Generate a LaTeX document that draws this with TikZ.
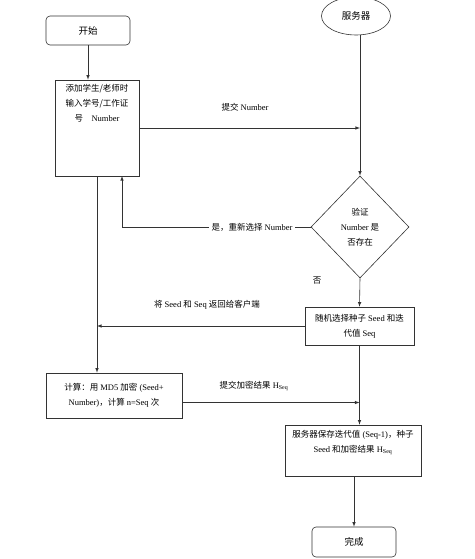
\documentclass[tikz,border=0pt]{standalone}
\usepackage{fontspec}
\setmainfont{Liberation Serif}
\newfontfamily\cjk{Noto Sans CJK SC}
\usetikzlibrary{shapes.geometric}

\tikzset{
  box/.style={draw=black!80, rectangle, align=center, inner sep=2pt, font=\fontsize{8.5}{15}\selectfont},
  roundbox/.style={box, rounded corners=4pt, font=\fontsize{9.5}{12}\selectfont},
  txt/.style={align=center, inner sep=1pt, font=\fontsize{8.5}{15}\selectfont},
  arr/.style={draw=black!80, ->, >=latex}
}

\begin{document}
\begin{tikzpicture}[x=1pt,y=-1pt,line width=0.6pt]
\useasboundingbox (0,0) rectangle (474,559);

% client side
\node[roundbox, minimum width=84pt, minimum height=29pt] (start) at (88,30.5) {\cjk 开始};
\node[box, minimum width=84pt, minimum height=96pt,
  label={[txt, anchor=north, yshift=-3pt, name=inputtxt]north:{\cjk 添加学生/老师时}\\{\cjk 输入学号/工作证}\\{\cjk 号}\quad Number}]
  (input) at (97,128) {};
\node[box, minimum width=136pt, minimum height=45pt] (calc) at (114,395.5)
  {{\cjk 计算：用} MD5 {\cjk 加密} (Seed+\\Number){\cjk ，计算} n=Seq {\cjk 次}};

% server side
\node[draw=black!80, ellipse, minimum width=69pt, minimum height=38pt, font=\fontsize{9.5}{12}\selectfont] (server) at (356,16) {\cjk 服务器};
\node[draw=black!80, diamond, inner sep=0pt, minimum width=98pt, minimum height=102pt, txt] (check) at (360,227)
  {{\cjk 验证}\\Number {\cjk 是}\\{\cjk 否存在}};
\node[box, minimum width=109pt, minimum height=38pt] (rand) at (359.5,326)
  {{\cjk 随机选择种子} Seed {\cjk 和迭}\\{\cjk 代值} Seq};
\node[box, minimum width=136pt, minimum height=51pt] (save) at (353,450.5)
  {{\cjk 服务器保存迭代值} (Seq-1){\cjk ，种子}\\Seed {\cjk 和加密结果} H\textsubscript{Seq}\\[4pt]};
\node[roundbox, minimum width=84pt, minimum height=30pt] (done) at (354,542) {\cjk 完成};

\coordinate (back) at (122,176);

% connectors
\draw[arr] (start.south) -- (start.south |- input.north);
\draw[arr] (server.south -| check.north) -- (check.north);
\draw[arr] (input.east) -- (input.east -| check.north);
\node[txt] (sendlbl) at (245,107) {{\cjk 提交} Number};
\draw[arr] (check.west) -| (back);
\node[txt, fill=white, inner sep=3pt] (yeslbl) at (252,227) {{\cjk 是，重新选择} Number};
\draw[arr] (check.south) -- (rand.north);
\node[txt] (nolbl) at (317,281) {\cjk 否};
\draw[arr] (rand.west) -- (rand.west -| input.south);
\node[txt] (retlbl) at (207,305) {{\cjk 将} Seed {\cjk 和} Seq {\cjk 返回给客户端}};
\draw[arr] (input.south) -- (input.south |- calc.north);
\draw[arr] ([yshift=-7pt]calc.east) -- ([yshift=-7pt]calc.east -| rand.south);
\node[txt] (hashlbl) at (254,386) {{\cjk 提交加密结果} H\textsubscript{Seq}};
\draw[arr] (rand.south) -- (rand.south |- save.north);
\draw[arr] (save.south -| done.north) -- (done.north);
\end{tikzpicture}
\end{document}
